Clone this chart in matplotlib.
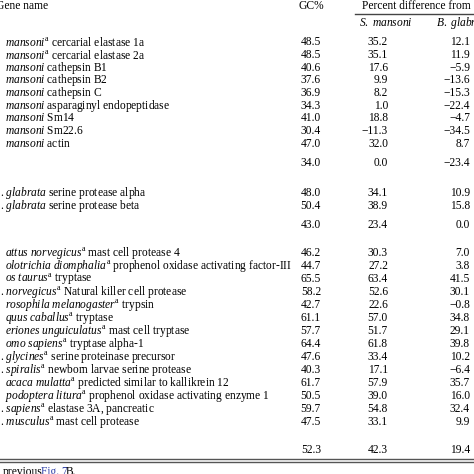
import matplotlib
matplotlib.use("Agg")
import matplotlib.pyplot as plt

plt.rcParams['mathtext.fontset'] = 'custom'
plt.rcParams['mathtext.rm'] = 'Liberation Serif'
plt.rcParams['mathtext.it'] = 'Liberation Serif:italic'
plt.rcParams['font.family'] = 'Liberation Serif'

names = [
    r"$\it{mansoni}^{\mathrm{a}}$ cercarial elastase 1a",
    r"$\it{mansoni}^{\mathrm{a}}$ cercarial elastase 2a",
    r"$\it{mansoni}$ cathepsin B1",
    r"$\it{mansoni}$ cathepsin B2",
    r"$\it{mansoni}$ cathepsin C",
    r"$\it{mansoni}$ asparaginyl endopeptidase",
    r"$\it{mansoni}$ Sm14",
    r"$\it{mansoni}$ Sm22.6",
    r"$\it{mansoni}$ actin",
    "",
    r". $\it{glabrata}$ serine protease alpha",
    r". $\it{glabrata}$ serine protease beta",
    "",
    r"$\it{attus\ norvegicus}^{\mathrm{a}}$ mast cell protease 4",
    r"$\it{olotrichia\ diomphalia}^{\mathrm{a}}$ prophenol oxidase activating factor-III",
    r"$\it{os\ taurus}^{\mathrm{a}}$ tryptase",
    r". $\it{norvegicus}^{\mathrm{a}}$ Natural killer cell protease",
    r"$\it{rosophila\ melanogaster}^{\mathrm{a}}$ trypsin",
    r"$\it{quus\ caballus}^{\mathrm{a}}$ tryptase",
    r"$\it{eriones\ unguiculatus}^{\mathrm{a}}$ mast cell tryptase",
    r"$\it{omo\ sapiens}^{\mathrm{a}}$ tryptase alpha-1",
    r". $\it{glycines}^{\mathrm{a}}$ serine proteinase precursor",
    r". $\it{spiralis}^{\mathrm{a}}$ newborn larvae serine protease",
    r"$\it{acaca\ mulatta}^{\mathrm{a}}$ predicted similar to kallikrein 12",
    r"$\it{podoptera\ litura}^{\mathrm{a}}$ prophenol oxidase activating enzyme 1",
    r". $\it{sapiens}^{\mathrm{a}}$ elastase 3A, pancreatic",
    r". $\it{musculus}^{\mathrm{a}}$ mast cell protease",
    "",
]
gc = ["48.5","48.5","40.6","37.6","36.9","34.3","41.0","30.4","47.0","34.0",
      "48.0","50.4","43.0",
      "46.2","44.7","65.5","58.2","42.7","61.1","57.7","64.4","47.6","40.3","61.7","50.5","59.7","47.5","52.3"]
sm = ["35.2","35.1","17.6","9.9","8.2","1.0","18.8","\u221211.3","32.0","0.0",
      "34.1","38.9","23.4",
      "30.3","27.2","63.4","52.6","22.6","57.0","51.7","61.8","33.4","17.1","57.9","39.0","54.8","33.1","42.3"]
bg = ["12.1","11.9","\u22125.9","\u221213.6","\u221215.3","\u221222.4","\u22124.7","\u221234.5","8.7","\u221223.4",
      "10.9","15.8","0.0",
      "7.0","3.8","41.5","30.1","\u22120.8","34.8","29.1","39.8","10.2","\u22126.4","35.7","16.0","32.4","9.9","19.4"]

ys = [42,55,68,80,93,106,118,131,144,163,
      193,206,225,
      253,266,279,292,305,318,331,344,357,370,383,396,409,422,450]

fig = plt.figure(figsize=(4.74, 4.74), dpi=100)
ax = fig.add_axes([0, 0, 1, 1])
ax.set_xlim(0, 474)
ax.set_ylim(474, 0)
ax.axis('off')

fs = 8.3
ax.text(-4, 6, "Gene name", fontsize=fs, va='center', ha='left')
ax.text(311, 6, "GC%", fontsize=fs, va='center', ha='center')
ax.text(362, 6, "Percent difference from GC", fontsize=fs, va='center', ha='left')
ax.plot([355, 474], [14, 14], color='#444444', lw=1.0)
ax.text(386, 23, r"$\it{S.\ mansoni}$", fontsize=fs, va='center', ha='center')
ax.text(436, 23, r"$\it{B.\ glabrata}$", fontsize=fs, va='center', ha='left')

for n, g, s, b, y in zip(names, gc, sm, bg, ys):
    if n:
        x0 = 0 if n.startswith(".") else 5
        ax.text(x0, y, n, fontsize=fs, va='center', ha='left')
    ax.text(321, y, g, fontsize=fs, va='center', ha='right')
    ax.text(388, y, s, fontsize=fs, va='center', ha='right')
    ax.text(470, y, b, fontsize=fs, va='center', ha='right')

ax.plot([0, 474], [459, 459], color='#555555', lw=1.0)
ax.plot([0, 474], [461.5, 461.5], color='#555555', lw=1.0)
ax.text(3, 472, "previous", fontsize=fs, va='center', ha='left')
ax.text(41, 472, "Fig. 7", fontsize=fs, va='center', ha='left', color='#3344aa')
ax.text(66, 472, "B.", fontsize=fs, va='center', ha='left')

fig.savefig("out.png", dpi=100)
